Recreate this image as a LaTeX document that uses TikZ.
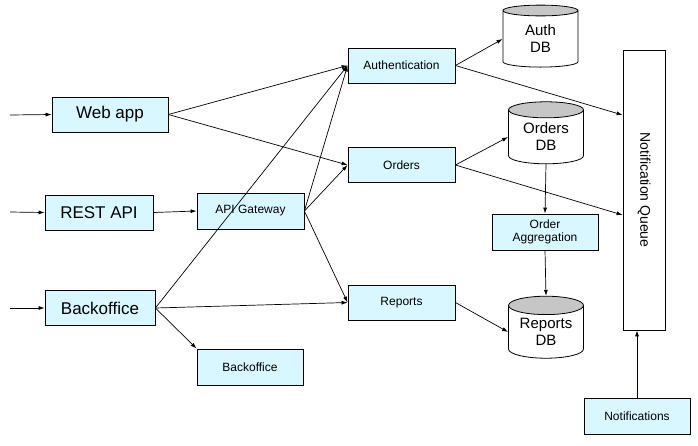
\documentclass[tikz,border=0pt]{standalone}
\usepackage{fontspec}
\setmainfont{Liberation Sans}
\usetikzlibrary{shapes.geometric,arrows.meta}
\begin{document}
\begin{tikzpicture}[x=1pt,y=-1pt,
  box/.style={draw,fill=blue!20!cyan!15,line width=0.8pt,inner sep=0pt,minimum height=35pt,font=\fontsize{12}{14}\selectfont,align=center},
  big/.style={box,font=\fontsize{17}{20}\selectfont},
  db/.style={cylinder,draw,line width=0.8pt,shape border rotate=90,aspect=0.35,minimum width=75pt,minimum height=62pt,cylinder uses custom fill,cylinder end fill=gray!45,cylinder body fill=white,align=center,font=\fontsize{15}{17}\selectfont,inner sep=0pt},
  ar/.style={-{Latex[length=6pt,width=4pt]},line width=0.7pt}]
\useasboundingbox (0,0) rectangle (698,445);
\node[big,minimum width=116pt] (web) at (110,114.5) {Web app};
\node[big,minimum width=108pt] (rest) at (99,212.5) {REST API};
\node[big,minimum width=110pt] (bo) at (100,308) {Backoffice};
\node[box,minimum width=107pt,minimum height=36pt] (gw) at (250.5,211) {API Gateway};
\node[box,minimum width=107pt] (auth) at (401.5,65.5) {Authentication};
\node[box,minimum width=107pt] (ord) at (401.5,165) {Orders};
\node[box,minimum width=107pt] (rep) at (401.5,302.5) {Reports};
\node[box,minimum width=106pt,minimum height=36pt] (bo2) at (250,367) {Backoffice};
\node[db] (adb) at (540.5,39) {Auth\\DB};
\node[db] (odb) at (546,137) {Orders\\DB};
\node[box,minimum width=106pt,minimum height=36pt,font=\fontsize{12}{13}\selectfont] (agg) at (545,232) {Order\\Aggregation};
\node[db] (rdb) at (546,332) {Reports\\DB};
\node[draw,fill=white,line width=0.8pt,minimum width=42pt,minimum height=280pt] (q) at (644,190) {};
\node[rotate=-90,font=\fontsize{14}{16}\selectfont] at (q.center) {Notification Queue};
\node[box,minimum width=106pt,minimum height=36pt] (nt) at (637,416) {Notifications};
\coordinate (i1) at (10,115); \coordinate (i2) at (10,212); \coordinate (i3) at (10,308);
\draw[ar] (i1) -- (web.west);
\draw[ar] (i2) -- (rest.west);
\draw[ar] (i3) -- (bo.west);
\draw[ar] (web.east) -- (auth.west);
\draw[ar] (web.east) -- (ord.west);
\draw[ar] (rest.east) -- (gw.west);
\draw[ar] (bo.east) -- (auth.west);
\draw[ar] (bo.east) -- (rep.west);
\draw[ar] (bo.east) -- (bo2.north west);
\draw[ar] (gw.east) -- (auth.west);
\draw[ar] (gw.east) -- (ord.west);
\draw[ar] (gw.east) -- (rep.west);
\draw[ar] (auth.east) -- (adb.west);
\draw[ar] (auth.east) -- (q.west |- 0,115);
\draw[ar] (ord.east) -- (odb.west);
\draw[ar] (ord.east) -- (q.west |- 0,215);
\draw[ar] (odb.south) -- (agg.north);
\draw[ar] (agg.south) -- (rdb.north);
\draw[ar] (rep.east) -- (rdb.west);
\draw[ar] (nt.north) -- (q.south -| nt.north);
\end{tikzpicture}
\end{document}
